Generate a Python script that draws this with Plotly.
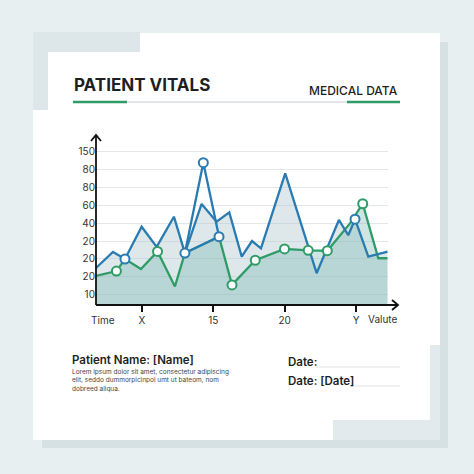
import plotly.graph_objects as go

W = H = 474

# ---- data (x in time units, y in grid-line units; tick text below) ----
y_tickvals = [1, 2, 3, 4, 5, 6, 7, 8, 9]
y_ticktext = ["10", "20", "20", "20", "40", "60", "80", "80", "150"]
x_tickvals = [10, 15, 20, 25]
x_ticktext = ["X", "15", "20", "Y"]

blue_x = [6.78, 7.97, 8.81, 9.98, 11.03, 12.24, 13.01, 14.18, 15.23, 16.12, 16.99,
          17.71, 18.34, 20.04, 22.24, 23.80, 24.46, 24.93, 25.86, 27.22]
blue_y = [2.5, 3.39, 3.0, 4.79, 3.67, 5.35, 3.33, 6.06, 5.07, 5.59, 3.13,
          4.0, 3.59, 7.76, 2.21, 5.17, 4.32, 5.21, 3.13, 3.41]
blue_marker_idx = [2, 6, 17]

spike_x = [13.01, 14.30, 15.40, 13.01]
spike_y = [3.33, 8.35, 4.24, 3.33]
spike_marker_idx = [1, 2]

green_x = [6.78, 8.21, 8.81, 9.93, 11.09, 12.31, 13.01, 15.40, 16.31, 17.94, 19.99,
           21.65, 22.99, 24.58, 25.47, 26.56, 27.22]
green_y = [2.06, 2.33, 3.0, 2.44, 3.42, 1.47, 3.33, 4.24, 1.56, 2.93, 3.56,
           3.48, 3.46, 4.98, 6.07, 3.04, 3.04]
green_marker_idx = [1, 4, 8, 9, 10, 11, 12, 14]

BLUE = "#2a7bb1"
GREEN = "#2f9c68"

def px(x):
    return x / W

def py(y):
    return 1 - y / H

fig = go.Figure()

# fills
fig.add_trace(go.Scatter(x=blue_x, y=blue_y, mode="lines", line=dict(width=0),
                         fill="tozeroy", fillcolor="rgba(172,198,205,0.40)",
                         hoverinfo="skip", showlegend=False))
fig.add_trace(go.Scatter(x=green_x, y=green_y, mode="lines", line=dict(width=0),
                         fill="tozeroy", fillcolor="rgba(115,180,172,0.34)",
                         hoverinfo="skip", showlegend=False))
# lines
fig.add_trace(go.Scatter(x=green_x, y=green_y, mode="lines",
                         line=dict(color=GREEN, width=2.3), showlegend=False))
fig.add_trace(go.Scatter(x=blue_x, y=blue_y, mode="lines",
                         line=dict(color=BLUE, width=2.3), showlegend=False))
fig.add_trace(go.Scatter(x=spike_x, y=spike_y, mode="lines",
                         line=dict(color=BLUE, width=2.3), showlegend=False))
# markers
mk = dict(symbol="circle", size=9, color="white")
fig.add_trace(go.Scatter(x=[green_x[i] for i in green_marker_idx],
                         y=[green_y[i] for i in green_marker_idx], mode="markers",
                         marker=dict(**mk, line=dict(color=GREEN, width=2)), showlegend=False))
fig.add_trace(go.Scatter(x=[blue_x[i] for i in blue_marker_idx] + [spike_x[i] for i in spike_marker_idx],
                         y=[blue_y[i] for i in blue_marker_idx] + [spike_y[i] for i in spike_marker_idx],
                         mode="markers",
                         marker=dict(**mk, line=dict(color=BLUE, width=2)), showlegend=False))

shapes = []
def rect(x0, y0, x1, y1, color):
    shapes.append(dict(type="rect", xref="paper", yref="paper", x0=px(x0), x1=px(x1),
                       y0=py(y1), y1=py(y0), fillcolor=color, line=dict(width=0), layer="below"))
def line(x0, y0, x1, y1, color, w):
    shapes.append(dict(type="line", xref="paper", yref="paper", x0=px(x0), x1=px(x1),
                       y0=py(y0), y1=py(y1), line=dict(color=color, width=w)))

# page decoration
rect(42, 42, 448, 448, "#d6e1e4")
rect(33, 32, 140, 110, "#dde6e9")
rect(140, 33, 440, 440, "#ffffff")
rect(48, 52, 140, 440, "#ffffff")
rect(33, 110, 48, 440, "#ffffff")
rect(430, 345, 440, 440, "#e3eaed")
rect(333, 420, 440, 440, "#e3eaed")

# header rules
line(73, 102, 400, 102, "#e2e6e8", 2)
line(73, 102, 127, 102, GREEN, 2.5)
line(347, 102, 400, 102, GREEN, 2.5)

# axes with arrows
line(96, 305, 96, 135, "#111111", 1.8)
line(96, 305, 398, 305, "#111111", 1.8)
shapes.append(dict(type="path", xref="paper", yref="paper",
                   path=f"M {px(91)},{py(141)} L {px(96)},{py(135)} L {px(101)},{py(141)}",
                   line=dict(color="#111111", width=1.8)))
shapes.append(dict(type="path", xref="paper", yref="paper",
                   path=f"M {px(392)},{py(300)} L {px(398)},{py(305)} L {px(392)},{py(310)}",
                   line=dict(color="#111111", width=1.8)))
# signature lines
line(316, 367, 400, 367, "#e0e3e5", 1)
line(350, 386, 400, 386, "#e0e3e5", 1)

FONT = "Inter, Roboto, sans-serif"
ann = []
def text(x, y, s, size, color="#222222", anchor="left", weight="normal", yanchor="middle"):
    ann.append(dict(xref="paper", yref="paper", x=px(x), y=py(y), text=s, showarrow=False,
                    xanchor=anchor, yanchor=yanchor, align="left",
                    font=dict(family=FONT, size=size, color=color, weight=weight)))

text(72, 85, "PATIENT VITALS", 17, "#1d1f22", weight="bold")
text(400, 90, "MEDICAL DATA", 12, "#1d1f22", anchor="right", weight=500)
text(89, 320, "Time", 10, "#333333")
text(400, 319, "Valute", 10, "#333333", anchor="right")
text(70, 360, "Patient Name: [Name]", 11.5, "#1d1f22", weight=600)
text(70, 380, "Lorem ipsum dolor sit amet, consectetur adipiscing<br>elit, seddo dummorpicinpol umt ut bateom, nom<br>dobreed aliqua.",
     6.5, "#444444")
text(286, 362, "Date:", 11.5, "#1d1f22", weight=600)
text(286, 381, "Date: [Date]", 11.5, "#1d1f22", weight=600)

fig.update_layout(
    width=W, height=H, margin=dict(l=0, r=0, t=0, b=0),
    paper_bgcolor="#e8eff1", plot_bgcolor="rgba(0,0,0,0)",
    shapes=shapes, annotations=ann, showlegend=False,
    font=dict(family=FONT, color="#333333"),
    xaxis=dict(domain=[px(96), px(387.7)], range=[6.78, 27.22], tickvals=x_tickvals,
               ticktext=x_ticktext, showgrid=False, zeroline=False, showline=False,
               ticks="outside", ticklen=6, tickwidth=1.5, tickcolor="#111111",
               tickfont=dict(size=10, color="#333333"), automargin=False),
    yaxis=dict(domain=[py(305), py(135)], range=[0.444, 9.889], tickvals=y_tickvals,
               ticktext=y_ticktext, showgrid=True, gridcolor="#e4e7e9", gridwidth=1.2,
               zeroline=False, showline=False, ticks="",
               tickfont=dict(size=10, color="#333333"), automargin=False),
)

fig.write_html("out.html", config={"displayModeBar": False},
               post_script="document.body.style.margin='0px';document.body.style.overflow='hidden';")
